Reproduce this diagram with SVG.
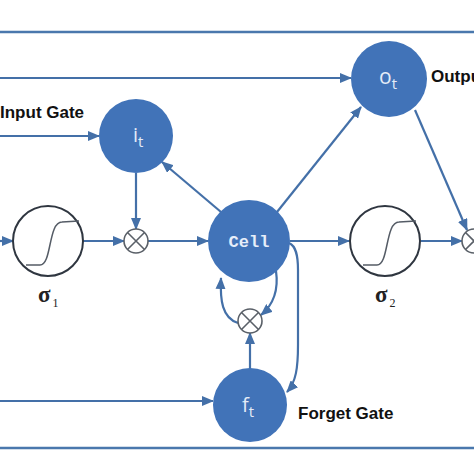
<svg xmlns="http://www.w3.org/2000/svg" width="474" height="474" viewBox="0 0 474 474">
<defs>
<marker id="ah" markerUnits="userSpaceOnUse" markerWidth="12" markerHeight="10" refX="11" refY="5" orient="auto">
<path d="M0,0 L12,5 L0,10 Z" fill="#4470a8"/>
</marker>
<style>
.frame{stroke:#4a78ad;stroke-width:2.5;fill:none}
.conn{stroke:#4470a8;stroke-width:2.2;fill:none}
.arr{marker-end:url(#ah)}
.gate{fill:#4173b8}
.sig{fill:#fff;stroke:#2f3640;stroke-width:2}
.sigc{fill:none;stroke:#555c66;stroke-width:1.5}
.mul{fill:#fff;stroke:#5a6068;stroke-width:1.6}
.glbl{font-family:"Open Sans","Liberation Sans",sans-serif;fill:#e4ecf7}
.title{font-family:"Liberation Sans",Arial,sans-serif;font-weight:bold;font-size:17px;fill:#111}
.sigma{font-family:"Liberation Serif","Times New Roman",serif;fill:#222}
</style>
</defs>
<rect width="474" height="474" fill="#fff"/>
<g id="connectors">
<line class="frame" x1="0" y1="32" x2="474" y2="32"/>
<line class="frame" x1="0" y1="448" x2="474" y2="448"/>
<line class="conn arr" x1="0" y1="78" x2="351" y2="78"/>
<line class="conn arr" x1="0" y1="136" x2="99" y2="136"/>
<line class="conn arr" x1="-10" y1="241" x2="13" y2="241"/>
<line class="conn arr" x1="83" y1="241" x2="124" y2="241"/>
<line class="conn arr" x1="136" y1="173" x2="136" y2="229"/>
<line class="conn arr" x1="148" y1="241" x2="208" y2="241"/>
<line class="conn arr" x1="290" y1="241" x2="349" y2="241"/>
<line class="conn arr" x1="421" y1="241" x2="462" y2="241"/>
<line class="conn arr" x1="415" y1="110" x2="467" y2="230"/>
<line class="conn arr" x1="277" y1="212" x2="361" y2="107"/>
<line class="conn arr" x1="221" y1="212" x2="162" y2="162"/>
<line class="conn arr" x1="0" y1="401" x2="213" y2="401"/>
<line class="conn arr" x1="250" y1="369" x2="250" y2="333"/>
<path class="conn arr" d="M238,323 C222,318 220,300 221,278"/>
<path class="conn arr" d="M276,271 C279,292 273,305 261,315"/>
<path class="conn arr" d="M289,243 C296,246 298,255 298,270 L298,345 C298,368 296,382 287,392"/>
</g>
<g id="sigma1">
<circle class="sig" cx="48" cy="241" r="35"/>
<path class="sigc" d="M26,265 L40,265 C52,265 48,222 62,222 L79,221"/>
<text class="sigma" x="38" y="302" font-size="23" font-weight="bold">σ<tspan font-size="12" font-weight="normal" dx="2" dy="5">1</tspan></text>
</g>
<g id="sigma2">
<circle class="sig" cx="385" cy="241" r="35"/>
<path class="sigc" d="M363,265 L377,265 C389,265 385,222 399,222 L416,221"/>
<text class="sigma" x="375" y="302" font-size="23" font-weight="bold">σ<tspan font-size="12" font-weight="normal" dx="2" dy="5">2</tspan></text>
</g>
<g id="mul1">
<circle class="mul" cx="136" cy="241" r="12"/>
<path class="mul" d="M127.5,232.5 L144.5,249.5 M144.5,232.5 L127.5,249.5"/>
</g>
<g id="mul2">
<circle class="mul" cx="474" cy="241" r="12"/>
<path class="mul" d="M465.5,232.5 L482.5,249.5 M482.5,232.5 L465.5,249.5"/>
</g>
<g id="mul3">
<circle class="mul" cx="250" cy="321" r="12"/>
<path class="mul" d="M241.5,312.5 L258.5,329.5 M258.5,312.5 L241.5,329.5"/>
</g>
<g id="input-gate">
<circle class="gate" cx="136" cy="136" r="37"/>
<text class="glbl" x="133" y="142" font-size="20">i<tspan font-size="15" dy="5">t</tspan></text>
<text class="title" x="0" y="118">Input Gate</text>
</g>
<g id="output-gate">
<circle class="gate" cx="389" cy="79" r="38"/>
<text class="glbl" x="379" y="84" font-size="21">o<tspan font-size="15" dy="5">t</tspan></text>
<text class="title" x="431" y="82">Output Gate</text>
</g>
<g id="cell">
<circle class="gate" cx="249" cy="241" r="41"/>
<text x="249" y="247" text-anchor="middle" font-family="'Liberation Mono','DejaVu Sans Mono',monospace" font-weight="bold" font-size="17" fill="#e6eefa">Cell</text>
</g>
<g id="forget-gate">
<circle class="gate" cx="250" cy="405" r="37"/>
<text class="glbl" x="242" y="412" font-size="20">f<tspan font-size="15" dy="5">t</tspan></text>
<text class="title" x="298" y="419">Forget Gate</text>
</g>
</svg>
